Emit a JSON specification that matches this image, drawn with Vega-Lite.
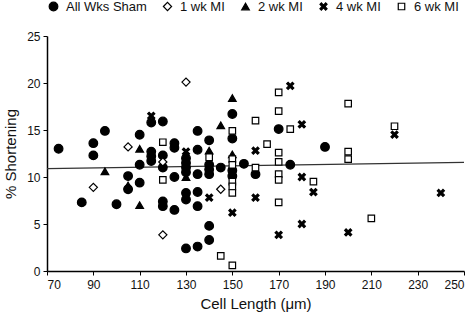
{
  "$schema": "https://vega.github.io/schema/vega-lite/v6.json",
  "width": 417,
  "height": 235,
  "autosize": "none",
  "padding": {"left": 47, "top": 36, "right": 10, "bottom": 54},
  "background": "white",
  "config": {
    "font": "Liberation Sans",
    "view": {"stroke": null},
    "axis": {"grid": false, "domainColor": "black", "tickColor": "black", "labelColor": "#111", "titleColor": "#111", "labelFontSize": 12, "titleFontSize": 15, "titleFontWeight": "normal", "tickSize": 4, "domainWidth": 1.5}
  },
  "datasets": {
    "cells": [
      {"group": "All Wks Sham", "length": 75, "shortening": 13.0},
      {"group": "All Wks Sham", "length": 85, "shortening": 7.3},
      {"group": "All Wks Sham", "length": 90, "shortening": 13.6},
      {"group": "All Wks Sham", "length": 90, "shortening": 12.3},
      {"group": "All Wks Sham", "length": 95, "shortening": 14.9},
      {"group": "All Wks Sham", "length": 100, "shortening": 7.1},
      {"group": "All Wks Sham", "length": 105, "shortening": 10.1},
      {"group": "All Wks Sham", "length": 105, "shortening": 8.7},
      {"group": "All Wks Sham", "length": 110, "shortening": 14.5},
      {"group": "All Wks Sham", "length": 110, "shortening": 11.3},
      {"group": "All Wks Sham", "length": 110, "shortening": 9.4},
      {"group": "All Wks Sham", "length": 115, "shortening": 15.8},
      {"group": "All Wks Sham", "length": 115, "shortening": 12.7},
      {"group": "All Wks Sham", "length": 115, "shortening": 12.2},
      {"group": "All Wks Sham", "length": 115, "shortening": 11.7},
      {"group": "All Wks Sham", "length": 120, "shortening": 15.9},
      {"group": "All Wks Sham", "length": 120, "shortening": 12.3},
      {"group": "All Wks Sham", "length": 120, "shortening": 11.0},
      {"group": "All Wks Sham", "length": 120, "shortening": 7.4},
      {"group": "All Wks Sham", "length": 120, "shortening": 6.9},
      {"group": "All Wks Sham", "length": 125, "shortening": 13.6},
      {"group": "All Wks Sham", "length": 125, "shortening": 13.1},
      {"group": "All Wks Sham", "length": 125, "shortening": 10.0},
      {"group": "All Wks Sham", "length": 125, "shortening": 6.5},
      {"group": "All Wks Sham", "length": 130, "shortening": 12.0},
      {"group": "All Wks Sham", "length": 130, "shortening": 11.5},
      {"group": "All Wks Sham", "length": 130, "shortening": 11.0},
      {"group": "All Wks Sham", "length": 130, "shortening": 10.5},
      {"group": "All Wks Sham", "length": 130, "shortening": 8.3},
      {"group": "All Wks Sham", "length": 130, "shortening": 7.6},
      {"group": "All Wks Sham", "length": 130, "shortening": 2.4},
      {"group": "All Wks Sham", "length": 135, "shortening": 14.9},
      {"group": "All Wks Sham", "length": 135, "shortening": 12.9},
      {"group": "All Wks Sham", "length": 135, "shortening": 10.3},
      {"group": "All Wks Sham", "length": 135, "shortening": 8.4},
      {"group": "All Wks Sham", "length": 135, "shortening": 6.9},
      {"group": "All Wks Sham", "length": 135, "shortening": 2.6},
      {"group": "All Wks Sham", "length": 140, "shortening": 13.9},
      {"group": "All Wks Sham", "length": 140, "shortening": 11.3},
      {"group": "All Wks Sham", "length": 140, "shortening": 10.8},
      {"group": "All Wks Sham", "length": 140, "shortening": 10.3},
      {"group": "All Wks Sham", "length": 140, "shortening": 4.8},
      {"group": "All Wks Sham", "length": 140, "shortening": 3.3},
      {"group": "All Wks Sham", "length": 145, "shortening": 11.0},
      {"group": "All Wks Sham", "length": 150, "shortening": 16.7},
      {"group": "All Wks Sham", "length": 150, "shortening": 14.1},
      {"group": "All Wks Sham", "length": 150, "shortening": 10.7},
      {"group": "All Wks Sham", "length": 150, "shortening": 10.1},
      {"group": "All Wks Sham", "length": 155, "shortening": 11.4},
      {"group": "All Wks Sham", "length": 160, "shortening": 10.3},
      {"group": "All Wks Sham", "length": 170, "shortening": 15.1},
      {"group": "All Wks Sham", "length": 175, "shortening": 11.3},
      {"group": "All Wks Sham", "length": 190, "shortening": 13.2},
      {"group": "1 wk MI", "length": 90, "shortening": 8.9},
      {"group": "1 wk MI", "length": 105, "shortening": 13.2},
      {"group": "1 wk MI", "length": 120, "shortening": 11.6},
      {"group": "1 wk MI", "length": 120, "shortening": 3.85},
      {"group": "1 wk MI", "length": 130, "shortening": 20.1},
      {"group": "1 wk MI", "length": 145, "shortening": 8.7},
      {"group": "2 wk MI", "length": 95, "shortening": 10.6},
      {"group": "2 wk MI", "length": 105, "shortening": 9.1},
      {"group": "2 wk MI", "length": 110, "shortening": 13.0},
      {"group": "2 wk MI", "length": 110, "shortening": 7.0},
      {"group": "2 wk MI", "length": 130, "shortening": 10.0},
      {"group": "2 wk MI", "length": 140, "shortening": 12.8},
      {"group": "2 wk MI", "length": 145, "shortening": 15.5},
      {"group": "2 wk MI", "length": 150, "shortening": 18.4},
      {"group": "2 wk MI", "length": 150, "shortening": 12.4},
      {"group": "4 wk MI", "length": 115, "shortening": 16.5},
      {"group": "4 wk MI", "length": 130, "shortening": 12.7},
      {"group": "4 wk MI", "length": 140, "shortening": 7.8},
      {"group": "4 wk MI", "length": 150, "shortening": 6.2},
      {"group": "4 wk MI", "length": 160, "shortening": 12.8},
      {"group": "4 wk MI", "length": 160, "shortening": 7.8},
      {"group": "4 wk MI", "length": 170, "shortening": 3.85},
      {"group": "4 wk MI", "length": 175, "shortening": 19.7},
      {"group": "4 wk MI", "length": 180, "shortening": 15.6},
      {"group": "4 wk MI", "length": 180, "shortening": 10.0},
      {"group": "4 wk MI", "length": 180, "shortening": 5.0},
      {"group": "4 wk MI", "length": 185, "shortening": 8.4},
      {"group": "4 wk MI", "length": 200, "shortening": 4.1},
      {"group": "4 wk MI", "length": 220, "shortening": 14.5},
      {"group": "4 wk MI", "length": 240, "shortening": 8.3},
      {"group": "6 wk MI", "length": 120, "shortening": 13.7},
      {"group": "6 wk MI", "length": 120, "shortening": 9.7},
      {"group": "6 wk MI", "length": 140, "shortening": 12.1},
      {"group": "6 wk MI", "length": 145, "shortening": 1.6},
      {"group": "6 wk MI", "length": 150, "shortening": 14.9},
      {"group": "6 wk MI", "length": 150, "shortening": 11.9},
      {"group": "6 wk MI", "length": 150, "shortening": 11.3},
      {"group": "6 wk MI", "length": 150, "shortening": 9.5},
      {"group": "6 wk MI", "length": 150, "shortening": 9.0},
      {"group": "6 wk MI", "length": 150, "shortening": 8.3},
      {"group": "6 wk MI", "length": 150, "shortening": 0.6},
      {"group": "6 wk MI", "length": 160, "shortening": 16.0},
      {"group": "6 wk MI", "length": 160, "shortening": 11.0},
      {"group": "6 wk MI", "length": 165, "shortening": 13.5},
      {"group": "6 wk MI", "length": 170, "shortening": 19.0},
      {"group": "6 wk MI", "length": 170, "shortening": 17.0},
      {"group": "6 wk MI", "length": 170, "shortening": 12.6},
      {"group": "6 wk MI", "length": 170, "shortening": 11.6},
      {"group": "6 wk MI", "length": 170, "shortening": 10.3},
      {"group": "6 wk MI", "length": 170, "shortening": 9.7},
      {"group": "6 wk MI", "length": 170, "shortening": 7.3},
      {"group": "6 wk MI", "length": 175, "shortening": 15.1},
      {"group": "6 wk MI", "length": 185, "shortening": 9.5},
      {"group": "6 wk MI", "length": 200, "shortening": 17.8},
      {"group": "6 wk MI", "length": 200, "shortening": 12.7},
      {"group": "6 wk MI", "length": 200, "shortening": 11.9},
      {"group": "6 wk MI", "length": 210, "shortening": 5.6},
      {"group": "6 wk MI", "length": 220, "shortening": 15.4}
    ],
    "fit": [
      {"length": 70, "shortening": 10.9},
      {"length": 250, "shortening": 11.55}
    ]
  },
  "layer": [
    {
      "data": {"name": "fit"},
      "mark": {"type": "line", "color": "#333", "strokeWidth": 1.2},
      "encoding": {
        "x": {"field": "length", "type": "quantitative"},
        "y": {"field": "shortening", "type": "quantitative"}
      }
    },
    {
      "data": {"name": "cells"},
      "mark": {"type": "point", "filled": true, "opacity": 1, "stroke": "black", "strokeWidth": 1.2},
      "encoding": {
        "x": {"field": "length", "type": "quantitative", "scale": {"domain": [70, 250], "nice": false, "zero": false},
          "axis": {"values": [70, 90, 110, 130, 150, 170, 190, 210, 230, 250], "title": "Cell Length (μm)", "labelPadding": 4, "titlePadding": 6}},
        "y": {"field": "shortening", "type": "quantitative", "scale": {"domain": [0, 25], "nice": false},
          "axis": {"values": [0, 5, 10, 15, 20, 25], "title": "% Shortening", "labelPadding": 3, "titlePadding": 8}},
        "shape": {"field": "group", "type": "nominal",
          "scale": {"domain": ["All Wks Sham", "1 wk MI", "2 wk MI", "4 wk MI", "6 wk MI"],
            "range": ["circle", "diamond", "triangle-up", "M-1,-0.6L-0.6,-1L0,-0.4L0.6,-1L1,-0.6L0.4,0L1,0.6L0.6,1L0,0.4L-0.6,1L-1,0.6L-0.4,0Z", "square"]},
          "legend": {"title": null, "orient": "none", "legendX": 0, "legendY": -36, "direction": "horizontal", "gridAlign": "none", "padding": 0, "labelFontSize": 13, "labelColor": "#111", "columnPadding": 14, "symbolStrokeColor": "black", "symbolStrokeWidth": 1.2, "labelOffset": 6}},
        "fill": {"field": "group", "type": "nominal",
          "scale": {"domain": ["All Wks Sham", "1 wk MI", "2 wk MI", "4 wk MI", "6 wk MI"],
            "range": ["black", "white", "black", "black", "white"]}},
        "size": {"field": "group", "type": "nominal",
          "scale": {"domain": ["All Wks Sham", "1 wk MI", "2 wk MI", "4 wk MI", "6 wk MI"],
            "range": [75, 42, 50, 48, 80]}}
      }
    }
  ]
}
